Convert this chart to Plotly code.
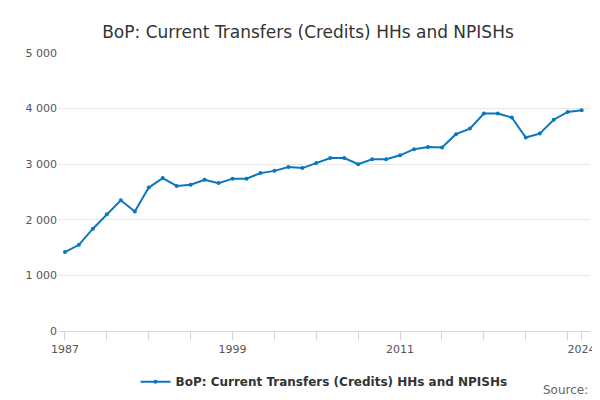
import plotly.graph_objects as go

years = list(range(1987, 2025))
values = [1420, 1550, 1840, 2100, 2350, 2150, 2580, 2750, 2610, 2630, 2720, 2660,
          2740, 2740, 2840, 2880, 2950, 2930, 3020, 3110, 3110, 3000, 3090, 3090,
          3160, 3270, 3310, 3300, 3540, 3640, 3910, 3910, 3840, 3480, 3550, 3800,
          3940, 3970]
tick_years = list(range(1987, 2024, 3)) + [2024]
tick_labels = [str(y) if y in (1987, 1999, 2011, 2024) else "" for y in tick_years]
y_ticks = [0, 1000, 2000, 3000, 4000, 5000]
y_labels = ["0", "1 000", "2 000", "3 000", "4 000", "5 000"]

fig = go.Figure(go.Scatter(
    x=years, y=values, mode="lines+markers",
    name="<b>BoP: Current Transfers (Credits) HHs and NPISHs</b>",
    line=dict(color="#0a77bd", width=2), marker=dict(size=4, color="#0a77bd")))

fig.update_layout(
    width=600, height=400, plot_bgcolor="white", paper_bgcolor="white",
    font=dict(family="DejaVu Sans", color="#555", size=11),
    title=dict(text="BoP: Current Transfers (Credits) HHs and NPISHs", x=0.5, xanchor="center",
               y=0.955, font=dict(size=17, color="#333")),
    margin=dict(l=50, r=18, t=45, b=72),
    xaxis=dict(range=[1986.5, 2024.6], tickvals=tick_years, ticktext=tick_labels,
               showgrid=False, ticks="outside", ticklen=8, tickcolor="#ccd6eb",
               showline=True, linecolor="#ccd6eb", tickangle=0),
    yaxis=dict(range=[0, 5000], tickvals=y_ticks, ticktext=y_labels,
               gridcolor="#e6e6e6", zeroline=False),
    showlegend=True,
    legend=dict(orientation="h", x=0.5, xanchor="center", y=-0.13, yanchor="top",
                font=dict(size=12, color="#333")),
    annotations=[dict(text="Source:", x=1, xref="paper", xanchor="right",
                      y=0, yref="paper", yanchor="top", yshift=-50,
                      showarrow=False, font=dict(size=12, color="#666"))])
fig.write_html("out.html")
